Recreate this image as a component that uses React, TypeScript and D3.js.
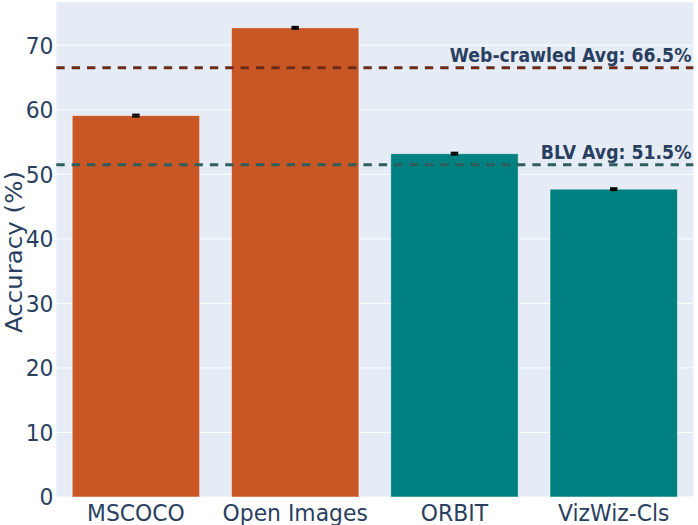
import * as d3 from "d3";

const categories = ["MSCOCO", "Open Images", "ORBIT", "VizWiz-Cls"];
const accuracy = [59.1, 72.7, 53.2, 47.7];
const errors = [0.15, 0.15, 0.15, 0.15];
const groups = ["web", "web", "blv", "blv"];
const yTicks = [0, 10, 20, 30, 40, 50, 60, 70];
const averages = [
  { key: "web", label: "Web-crawled Avg: 66.5%", value: 66.5 },
  { key: "blv", label: "BLV Avg: 51.5%", value: 51.5 },
];

const barColor: Record<string, string> = { web: "#C95726", blv: "#008080" };
const lineColor: Record<string, string> = { web: "#6B2C17", blv: "#2E5E5B" };

// the picture is squeezed sideways, so draw on a wider canvas and stretch it back
const W = 750;
const H = 525;
const margin = { left: 60.5, right: 5, top: 2, bottom: 28 };
const font = "'DejaVu Sans', sans-serif";
const ink = "#2a3f5f";

export default function App() {
  const x = d3
    .scaleBand()
    .domain(categories)
    .range([margin.left, W - margin.right])
    .paddingInner(0.2)
    .paddingOuter(0.1);
  const y = d3
    .scaleLinear()
    .domain([0, 76.7])
    .range([H - margin.bottom, margin.top]);

  return (
    <svg
      width={698}
      height={525}
      viewBox={`0 0 ${W} ${H}`}
      preserveAspectRatio="none"
      style={{ position: "absolute", left: 0, top: 0 }}
    >
      <rect
        x={margin.left}
        y={margin.top}
        width={W - margin.left - margin.right}
        height={H - margin.top - margin.bottom}
        fill="#E5ECF6"
      />
      {yTicks.map((t) => (
        <g key={t}>
          <line
            x1={margin.left}
            x2={W - margin.right}
            y1={y(t)}
            y2={y(t)}
            stroke="#fff"
            strokeWidth={1}
          />
          <text
            x={margin.left - 3}
            y={y(t)}
            dy="0.36em"
            textAnchor="end"
            fontFamily={font}
            fontSize={23.5}
            fill={ink}
          >
            {t}
          </text>
        </g>
      ))}
      {categories.map((c, i) => {
        const cx = x(c)! + x.bandwidth() / 2;
        return (
          <g key={c}>
            <rect
              x={x(c)}
              y={y(accuracy[i])}
              width={x.bandwidth()}
              height={y(0) - y(accuracy[i])}
              fill={barColor[groups[i]]}
              stroke="rgba(255,255,255,0.5)"
              strokeWidth={1}
            />
            <g stroke="#000" strokeWidth={2}>
              <line
                x1={cx}
                x2={cx}
                y1={y(accuracy[i] + errors[i])}
                y2={y(accuracy[i] - errors[i])}
              />
              <line
                x1={cx - 4}
                x2={cx + 4}
                y1={y(accuracy[i] + errors[i])}
                y2={y(accuracy[i] + errors[i])}
              />
              <line
                x1={cx - 4}
                x2={cx + 4}
                y1={y(accuracy[i] - errors[i])}
                y2={y(accuracy[i] - errors[i])}
              />
            </g>
            <text
              x={cx}
              y={H - 4}
              textAnchor="middle"
              fontFamily={font}
              fontSize={23.5}
              fill={ink}
            >
              {c}
            </text>
          </g>
        );
      })}
      {averages.map((a) => (
        <g key={a.key}>
          <line
            x1={margin.left}
            x2={W - margin.right}
            y1={y(a.value)}
            y2={y(a.value)}
            stroke={lineColor[a.key]}
            strokeWidth={3}
            strokeDasharray="9,7.5"
          />
          <text
            x={W - 7}
            y={y(a.value) - 6}
            textAnchor="end"
            fontFamily={font}
            fontSize={18.6}
            fontWeight="bold"
            fill={ink}
          >
            {a.label}
          </text>
        </g>
      ))}
      <text
        transform="translate(23.5, 252) rotate(-90)"
        textAnchor="middle"
        fontFamily={font}
        fontSize={24.5}
        fill={ink}
      >
        Accuracy (%)
      </text>
    </svg>
  );
}
